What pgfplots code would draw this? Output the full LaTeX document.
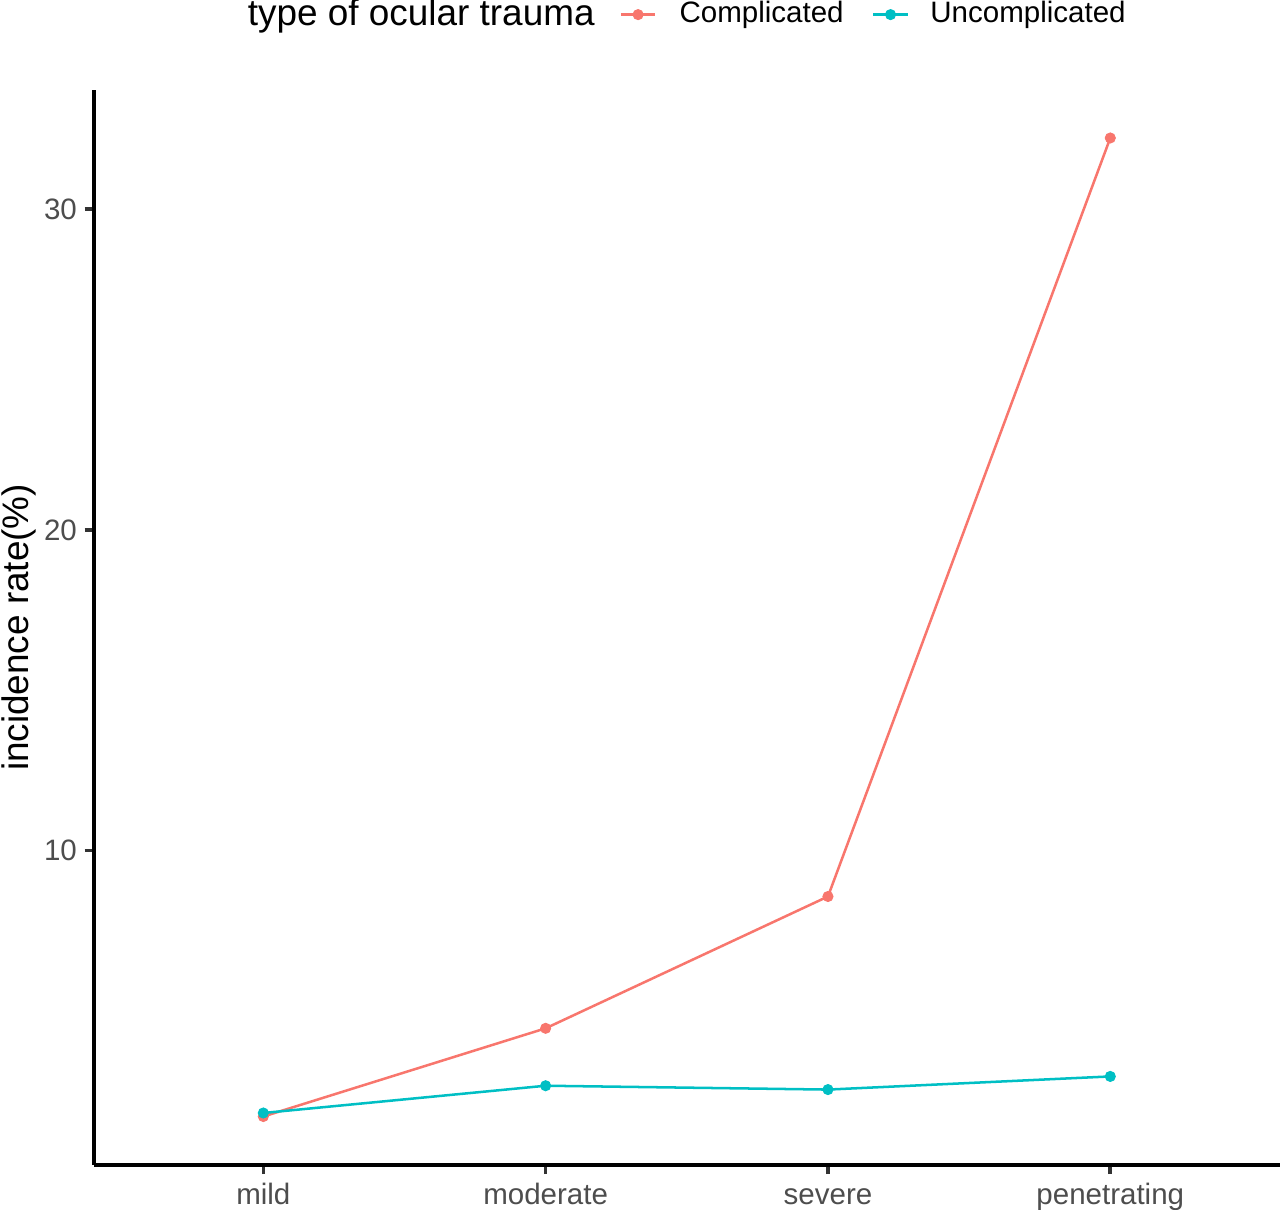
\documentclass[border=0pt]{standalone}
\usepackage{fontspec}
\setmainfont{Liberation Sans}
\usepackage{pgfplots}
\pgfplotsset{compat=1.18}
\definecolor{cred}{HTML}{F8766D}
\definecolor{cteal}{HTML}{00BFC4}
\definecolor{tickgray}{HTML}{4D4D4D}
\definecolor{tickline}{HTML}{333333}

\begin{document}
\begin{tikzpicture}
% picture frame: 1 px of the reference = 0.2981pt
\path[use as bounding box] (-28.0pt,-13.4pt) rectangle (353.6pt,347.3pt);
\begin{axis}[
    at={(0pt,0pt)}, anchor=south west,
    scale only axis,
    width=353.5pt, height=320.5pt,
    xmin=-0.6, xmax=3.6,
    ymin=0.2, ymax=33.72,
    axis lines=left,
    axis line style={-, line width=1.07pt, black},
    xtick={0,1,2,3},
    xticklabels={mild,moderate,severe,penetrating},
    ytick={10,20,30},
    tick align=outside,
    major tick length=2.75pt,
    tick style={line width=1.07pt, tickline},
    /pgf/number format/assume math mode=true,
    xticklabel style={font=\fontsize{8.8}{10.5}\selectfont, text=tickgray,
        anchor=north, text height=6.4pt, text depth=1.9pt, yshift=0.9pt},
    yticklabel style={font=\fontsize{8.8}{10.5}\selectfont, text=tickgray, xshift=1.2pt},
    ylabel={incidence rate(\%)},
    ylabel style={font=\fontsize{11}{13.2}\selectfont, at={(axis description cs:-0.0633,0.5)}, anchor=center},
    clip=false,
    legend columns=3,
    legend style={draw=none, fill=none, at={(axis description cs:0.5,1.070)}, anchor=center,
        font=\fontsize{8.8}{10.5}\selectfont, nodes={inner sep=0pt},
        /tikz/column 2/.style={column sep=7.5pt},
        /tikz/column 3/.style={column sep=6.9pt},
        /tikz/column 4/.style={column sep=8.5pt},
        /tikz/column 5/.style={column sep=6.4pt}},
    legend image code/.code={\draw[mark repeat=2,mark phase=2] plot coordinates {(0pt,0pt) (5.1pt,0pt) (10.2pt,0pt)};},
]
\addlegendimage{empty legend}
\addlegendentry{\fontsize{11}{13.2}\selectfont type of ocular trauma}

\addplot[color=cred, line width=0.75pt, mark=*, mark size=1.5pt, mark options={line width=0.3pt, fill=cred}]
    coordinates {(0,1.71) (1,4.46) (2,8.57) (3,32.22)};
\addlegendentry{Complicated}

\addplot[color=cteal, line width=0.75pt, mark=*, mark size=1.5pt, mark options={line width=0.3pt, fill=cteal}]
    coordinates {(0,1.82) (1,2.67) (2,2.55) (3,2.96)};
\addlegendentry{Uncomplicated}
\end{axis}
\end{tikzpicture}
\end{document}
